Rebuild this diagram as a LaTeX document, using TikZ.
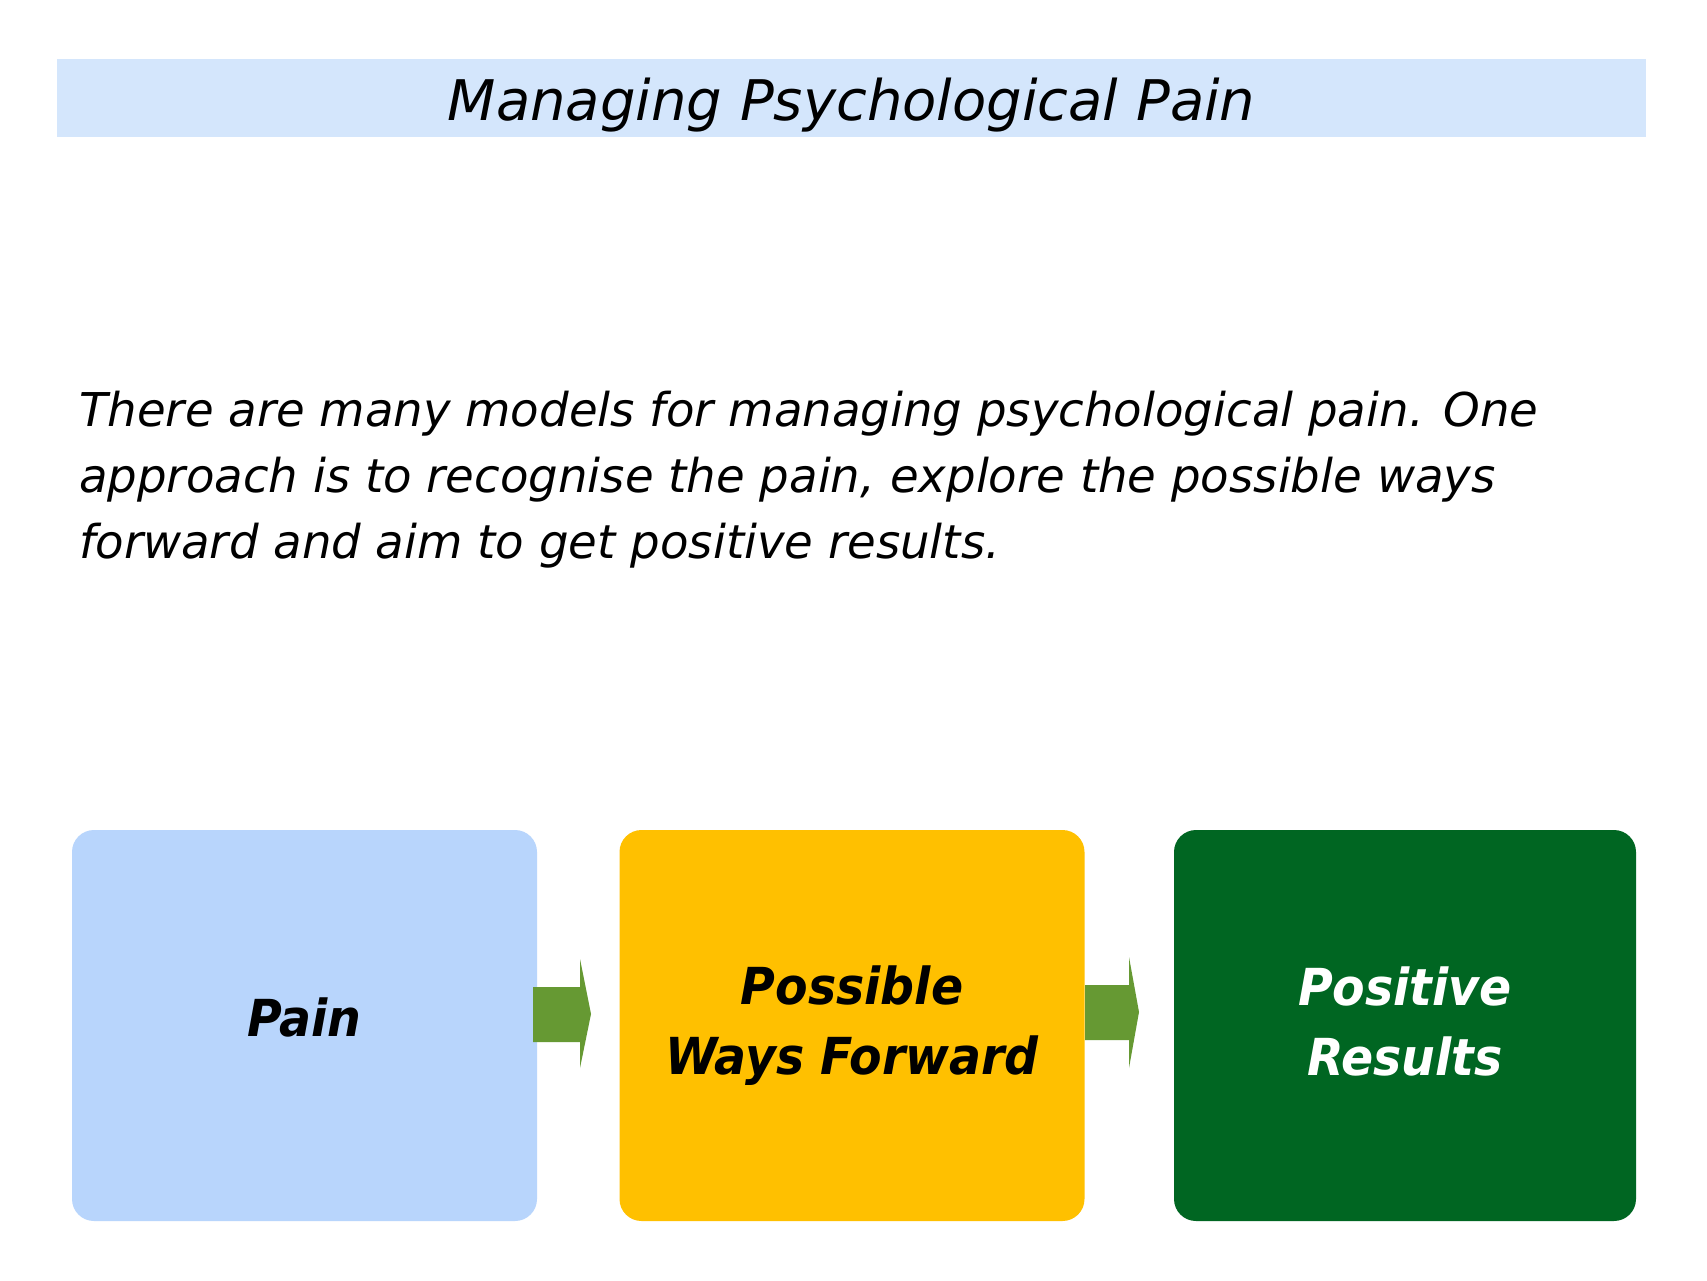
\documentclass[tikz,border=0pt]{standalone}
\usepackage{fontspec}
\setmainfont{DejaVu Sans}
\newfontfamily\labelfont{DejaVu Sans}[FakeStretch=0.93]
\definecolor{titlebg}{RGB}{212,230,252}
\definecolor{painblue}{RGB}{184,213,252}
\definecolor{wayyellow}{RGB}{255,192,0}
\definecolor{resgreen}{RGB}{0,102,34}
\definecolor{arrowgreen}{RGB}{102,153,51}
\begin{document}
\begin{tikzpicture}[x=1pt,y=-1pt,
  stagebox/.style={rounded corners=22pt, inner sep=0pt, minimum width=465pt, minimum height=391pt, align=center,
    font=\labelfont\fontsize{51pt}{70pt}\selectfont\bfseries\itshape},
  flowarrow/.style={fill=arrowgreen, draw=none}]
\useasboundingbox (0,0) rectangle (1707,1280);
\fill[white] (0,0) rectangle (1707,1280);
\node[fill=titlebg, minimum width=1589pt, minimum height=78pt, inner sep=0pt] (titlebar) at (851.5,98) {};
\node[font=\fontsize{56pt}{60pt}\selectfont\itshape, anchor=base] (title) at (851.5,120) {Managing Psychological Pain};
\node[font=\fontsize{46.6pt}{66pt}\selectfont\itshape, anchor=base west, align=left, inner sep=0pt] (body) at (79,558)
 {There are many models for managing psychological pain. One\\approach is to recognise the pain, explore the possible ways\\forward and aim to get positive results.};
\node[stagebox, fill=painblue, text=black] (pain) at (304.5,1025.5) {\raisebox{16pt}{Pain}};
\node[stagebox, fill=wayyellow, text=black] (ways) at (852,1025.5) {\raisebox{9pt}{Possible}\\\raisebox{9pt}{Ways Forward}};
\node[stagebox, fill=resgreen, text=white, minimum width=462pt] (results) at (1405,1025.5) {\raisebox{9pt}{Positive}\\\raisebox{9pt}{Results}};
\fill[flowarrow] (533,987) -- (580,987) -- (580,959) -- (591,1014) -- (580,1068) -- (580,1042) -- (533,1042) -- cycle;
\fill[flowarrow] (1085,985) -- (1129,985) -- (1129,957) -- (1139,1012) -- (1129,1068) -- (1129,1040) -- (1085,1040) -- cycle;
\end{tikzpicture}
\end{document}
